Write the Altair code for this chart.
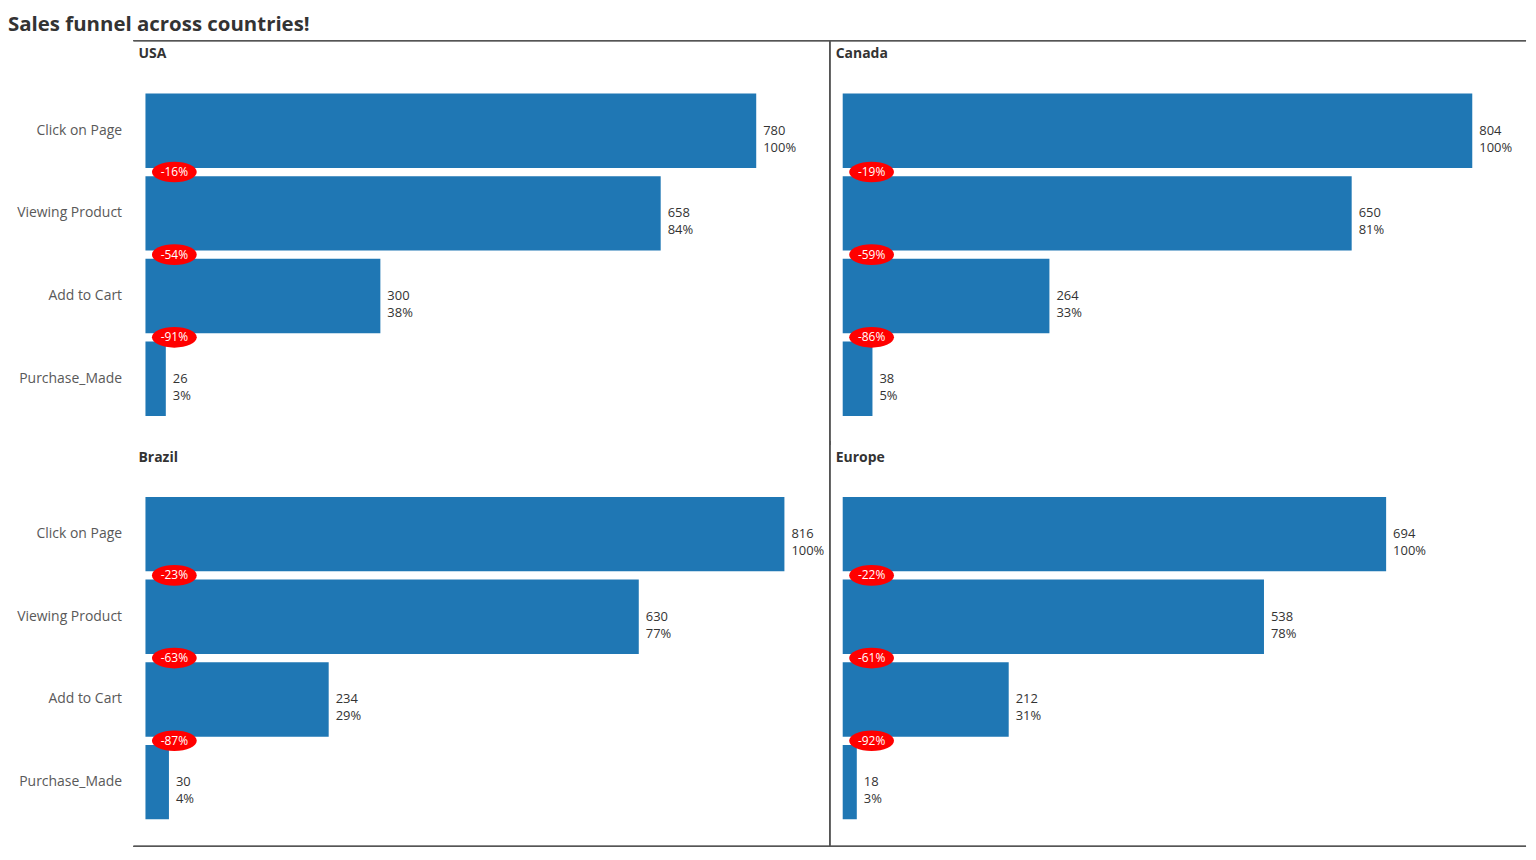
import altair as alt
import pandas as pd

stages = ["Click on Page", "Viewing Product", "Add to Cart", "Purchase_Made"]
countries = ["USA", "Canada", "Brazil", "Europe"]
usa = [780, 658, 300, 26]
canada = [804, 650, 264, 38]
brazil = [816, 630, 234, 30]
europe = [694, 538, 212, 18]
series = {"USA": usa, "Canada": canada, "Brazil": brazil, "Europe": europe}

FONT = "Open Sans"
W, H = 680, 332
BLUE = "#1f77b4"
LINE = "#555555"
HALF_STEP = 41.5  # half a band step: from band centre to the gap below
PILL = 45         # pill width in px (custom path spans -1..1 -> sqrt(size))
OFF = HALF_STEP / (PILL / 2)
ELLIPSE = f"M -1 {OFF:.3f} A 1 0.46 0 1 1 1 {OFF:.3f} A 1 0.46 0 1 1 -1 {OFF:.3f} Z"


def panel_frame(country):
    vals = series[country]
    rows = []
    for i, (s, v) in enumerate(zip(stages, vals)):
        pct = round(v / vals[0] * 100)
        # drop from stage i to stage i+1, shown in the gap under stage i
        drop = "" if i == len(vals) - 1 else f"-{round((1 - vals[i + 1] / v) * 100)}%"
        rows.append({"stage": s, "value": v, "label": f"{v}\n{pct}%", "drop": drop})
    return pd.DataFrame(rows)


def panel(country, left, top):
    df = panel_frame(country)
    yscale = alt.Scale(domain=stages, paddingInner=0.1, paddingOuter=0.05)
    if left:
        yaxis = alt.Axis(title=None, ticks=False, domain=False, grid=False,
                         labelPadding=24, labelFont=FONT, labelFontSize=14,
                         labelColor="#595959", minExtent=129, maxExtent=129)
    else:
        yaxis = None
    y = alt.Y("stage:N", sort=stages, scale=yscale, axis=yaxis)
    x = alt.X("value:Q", scale=alt.Scale(domain=[0, 865], nice=False, zero=True), axis=None)
    base = alt.Chart(df)
    bars = base.mark_bar(color=BLUE).encode(x=x, y=y)
    labels = base.mark_text(align="left", baseline="middle", dx=7, lineBreak="\n",
                            font=FONT, fontSize=13, color="#333333", lineHeight=17).encode(
        x=x, y=y, text="label:N")
    drops = base.transform_filter(alt.datum.drop != "")
    ell = drops.mark_point(shape=ELLIPSE, filled=True, color="#ff0000", opacity=1,
                           size=PILL * PILL, strokeWidth=0).encode(x=alt.value(29), y=y)
    dtext = drops.mark_text(baseline="middle", align="center", font=FONT, fontSize=12,
                            color="white", dy=HALF_STEP).encode(
        x=alt.value(29), y=y, text="drop:N")
    header = alt.Chart(pd.DataFrame({"country": [country]})).mark_text(
        align="left", baseline="middle", font=FONT, fontSize=14, fontWeight="bold",
        color="#333333").encode(x=alt.value(-7), y=alt.value(-35), text="country:N")
    layers = [bars, labels, ell, dtext, header]
    x1, x2 = (-12, 687) if left else (-13, 686)
    if top:
        layers.append(base.mark_rule(color=LINE, strokeWidth=1.3).encode(
            x=alt.value(x1), x2=alt.value(x2), y=alt.value(-49)))
    else:
        layers.append(base.mark_rule(color=LINE, strokeWidth=1.3).encode(
            x=alt.value(x1), x2=alt.value(x2), y=alt.value(355)))
    if left:
        y1, y2 = (-49, 357) if top else (-52, 355)
        layers.append(base.mark_rule(color=LINE, strokeWidth=1.3).encode(
            x=alt.value(687), y=alt.value(y1), y2=alt.value(y2)))
    return alt.layer(*layers).properties(width=W, height=H)


chart = alt.concat(
    panel("USA", True, True), panel("Canada", False, True),
    panel("Brazil", True, False), panel("Europe", False, False),
    columns=2, spacing={"row": 73, "column": 20}, bounds="flush",
).properties(
    title=alt.TitleParams("Sales funnel across countries!", anchor="start", frame="group",
                          dx=-138, font=FONT, fontSize=20.5, fontWeight="bold",
                          color="#333333", offset=4),
    padding={"left": 0, "top": 5, "right": 0, "bottom": 2},
).configure_view(stroke="transparent")

chart.save("out.html", embed_options={"renderer": "svg", "actions": False})
